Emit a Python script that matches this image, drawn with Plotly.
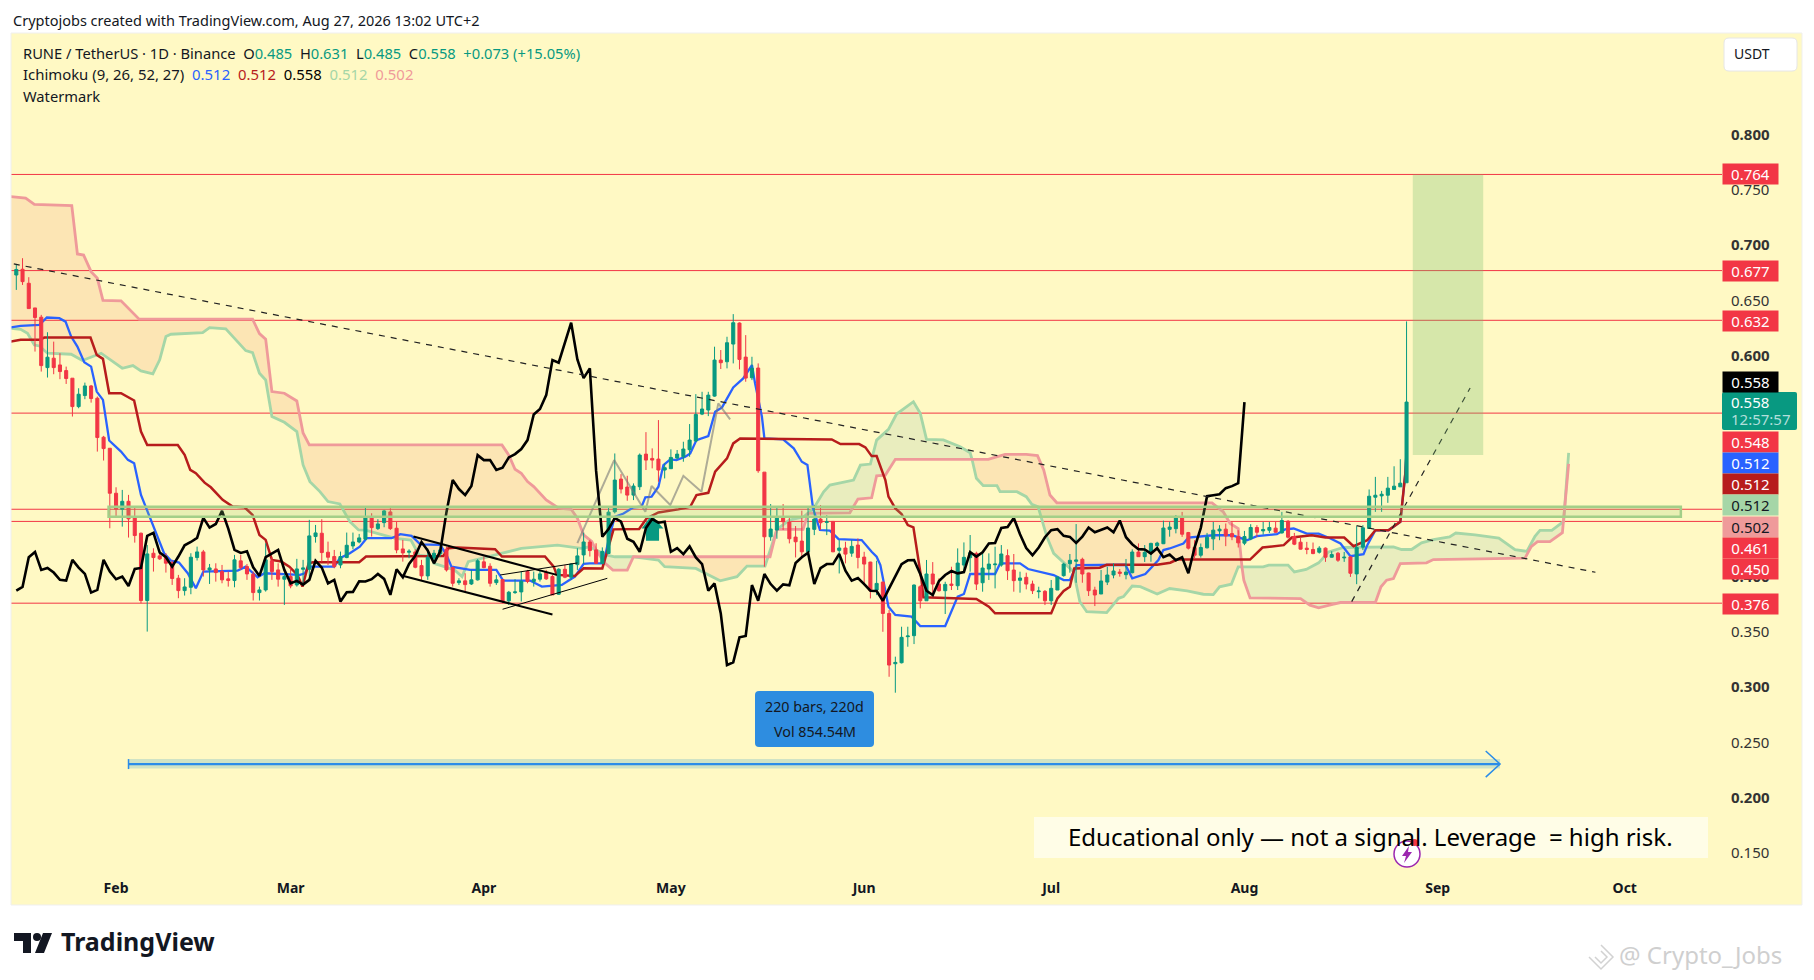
import pandas as pd
import plotly.graph_objects as go

first_bar = "2026-01-16"

opens = [.6730, .6782, .6655, .6432, .6348, .5892, .5977, .5916, .5865, .5796,
  .5539, .5639, .5726, .5615, .5262, .5162, .4755, .4610, .4682, .4538,
  .4393, .3784, .4212, .4188, .4176, .4127, .3986, .3874, .3904, .4173,
  .4224, .4061, .4070, .4046, .3980, .3965, .4143, .4091, .4022, .3856,
  .3880, .4143, .4061, .3977, .4001, .3925, .4067, .4067, .4363, .4393,
  .4221, .4182, .4106, .4173, .4278, .4314, .4339, .4535, .4435, .4489,
  .4586, .4438, .4251, .4221, .4224, .4100, .4007, .4167, .4206, .4248,
  .4082, .3946, .3962, .3934, .3971, .4134, .4094, .3946, .3974, .3781,
  .3856, .3862, .4046, .3956, .3977, .4040, .4001, .3841, .4067, .3995,
  .4109, .4197, .4314, .4242, .4120, .4210, .4587, .4883, .4811, .4738,
  .4814, .5109, .5070, .5064, .4965, .4977, .5073, .5085, .5149, .5227,
  .5471, .5508, .5634, .5960, .5945, .6105, .6295, .5987, .5800, .5888,
  .4946, .4361, .4422, .4530, .4494, .4358, .4322, .4225, .4428, .4521,
  .4491, .4500, .4238, .4259, .4213, .4286, .4177, .4132, .3879, .3951,
  .3667, .3212, .3221, .3457, .3466, .3909, .3782, .4024, .3933, .3873,
  .3933, .3918, .4105, .4172, .4211, .3945, .4069, .4108, .4105, .4190,
  .4060, .3967, .3994, .3933, .3864, .3867, .3782, .3879, .4009, .4117,
  .4139, .4157, .4033, .3879, .3843, .3951, .4015, .4042, .4018, .4036,
  .4223, .4181, .4217, .4280, .4298, .4428, .4434, .4535, .4399, .4264,
  .4194, .4261, .4342, .4414, .4430, .4390, .4363, .4303, .4342, .4445,
  .4414, .4420, .4439, .4396, .4502, .4363, .4312, .4258, .4246, .4221,
  .4258, .4176, .4212, .4170, .4179, .4025, .4267, .4436, .4719, .4731,
  .4737, .4789, .4813, .485]

closes = [.6780, .6670, .6426, .6345, .5910, .5986, .5892, .5856, .5793, .5539,
  .5651, .5726, .5612, .5259, .5159, .4755, .4610, .4682, .4523, .4372,
  .3784, .4206, .4173, .4161, .4122, .3983, .3874, .3907, .4176, .4224,
  .4061, .4079, .4037, .3971, .3965, .4152, .4082, .4025, .3856, .3880,
  .4152, .4046, .3977, .4001, .3916, .4070, .4079, .4369, .4396, .4218,
  .4176, .4091, .4182, .4284, .4314, .4351, .4532, .4444, .4477, .4595,
  .4435, .4242, .4215, .4230, .4085, .4007, .4176, .4212, .4242, .4061,
  .3940, .3962, .3928, .3971, .4143, .4082, .3940, .3971, .3775, .3859,
  .3862, .3958, .3956, .3977, .4025, .3980, .3835, .4067, .3995, .4115,
  .4188, .4314, .4236, .4121, .4229, .4584, .4874, .4793, .4738, .4820,
  .5100, .5055, .5055, .4965, .4986, .5079, .5109, .5155, .5236, .5468,
  .5517, .5643, .5960, .5936, .6117, .6298, .5966, .5797, .5885, .4959,
  .4361, .4431, .4530, .4497, .4343, .4316, .4225, .4440, .4521, .4488,
  .4497, .4225, .4259, .4204, .4274, .4174, .4114, .3873, .3939, .3667,
  .3200, .3224, .3451, .3463, .3924, .3782, .4024, .3933, .3873, .3930,
  .3921, .4123, .4175, .4217, .3933, .4078, .4114, .4114, .4205, .4054,
  .3964, .3988, .3933, .3873, .3870, .3782, .3894, .3997, .4114, .4148,
  .4151, .4024, .3873, .3834, .3961, .4015, .4051, .4030, .4042, .4223,
  .4181, .4220, .4301, .4304, .4440, .4449, .4531, .4384, .4258, .4194,
  .4264, .4357, .4421, .4430, .4369, .4360, .4306, .4363, .4445, .4402,
  .4427, .4445, .4402, .4508, .4357, .4294, .4249, .4246, .4209, .4258,
  .4176, .4200, .4149, .4176, .4031, .4264, .4442, .4728, .4737, .4746,
  .4801, .4819, .4846, .558]

highs = [.6830, .6882, .6710, .6432, .6369, .6212, .6127, .6022, .5901, .5796,
  .5705, .5756, .5735, .5630, .5274, .5162, .4809, .4785, .4740, .4634,
  .4399, .4287, .4257, .4227, .4212, .4146, .4016, .3986, .4212, .4272,
  .4242, .4115, .4121, .4106, .4046, .4197, .4197, .4115, .4046, .3910,
  .4302, .4176, .4121, .4031, .4076, .4161, .4152, .4514, .4468, .4520,
  .4317, .4242, .4227, .4399, .4399, .4387, .4622, .4574, .4520, .4604,
  .4619, .4496, .4333, .4248, .4248, .4152, .4257, .4242, .4272, .4272,
  .4091, .3986, .4031, .4061, .4158, .4182, .4121, .4016, .3977, .3871,
  .3977, .4046, .4061, .4046, .4052, .4061, .4016, .4076, .4106, .4121,
  .4257, .4399, .4333, .4302, .4265, .4627, .5115, .4928, .4913, .4844,
  .5115, .5308, .5161, .5417, .5025, .5152, .5146, .5221, .5381, .5652,
  .5673, .5673, .6081, .6051, .6171, .6376, .6301, .6186, .5990, .5930,
  .4946, .4657, .4639, .4657, .4548, .4458, .4597, .4633, .4648, .4648,
  .4557, .4500, .4331, .4316, .4331, .4346, .4225, .4135, .4144, .3954,
  .3698, .3276, .3547, .3547, .3930, .3924, .4151, .4132, .3985, .3954,
  .4090, .4256, .4310, .4377, .4226, .4211, .4211, .4271, .4286, .4247,
  .4205, .4045, .4036, .3964, .3909, .3879, .3970, .4000, .4126, .4205,
  .4476, .4172, .4036, .3909, .4060, .4090, .4120, .4069, .4160, .4247,
  .4301, .4286, .4307, .4316, .4507, .4497, .4558, .4586, .4405, .4330,
  .4300, .4396, .4496, .4466, .4481, .4496, .4420, .4414, .4475, .4466,
  .4496, .4496, .4496, .4586, .4511, .4396, .4354, .4315, .4309, .4276,
  .4264, .4230, .4224, .4224, .4185, .4457, .4466, .4789, .4903, .4776,
  .4903, .4999, .5063, .631]

lows = [.6595, .6640, .6426, .6037, .5856, .5802, .5832, .5787, .5744, .5449,
  .5524, .5606, .5575, .5132, .5051, .4438, .4535, .4453, .4354, .4308,
  .3760, .3503, .4046, .4152, .4037, .3925, .3805, .3829, .3841, .4146,
  .4001, .3934, .3955, .3940, .3910, .3904, .4061, .3971, .3784, .3784,
  .3865, .3971, .3910, .3744, .3895, .3910, .3925, .4001, .4308, .4136,
  .4106, .4076, .4076, .4167, .4248, .4302, .4333, .4363, .4423, .4447,
  .4423, .4212, .4136, .4167, .4076, .3971, .3971, .4121, .4182, .4046,
  .3910, .3925, .3865, .3925, .3965, .4076, .3910, .3925, .3759, .3744,
  .3844, .3775, .3940, .3910, .3956, .3971, .3835, .3835, .3986, .3971,
  .4061, .4115, .4182, .4115, .4120, .4204, .4572, .4753, .4687, .4693,
  .4784, .4965, .4980, .4859, .4889, .4974, .5061, .5040, .5085, .5221,
  .5462, .5453, .5628, .5879, .5885, .5930, .5876, .5764, .5779, .4940,
  .4090, .4325, .4343, .4422, .4301, .4174, .4180, .4210, .4376, .4422,
  .4376, .4222, .4029, .4120, .4180, .4075, .3924, .3803, .3833, .3501,
  .3094, .295, .3215, .3366, .3390, .3713, .3782, .3843, .3864, .3662,
  .3879, .3879, .4045, .4045, .3879, .3864, .3970, .3894, .4090, .3970,
  .3864, .3855, .3885, .3843, .3804, .3743, .3743, .3879, .4000, .4036,
  .3945, .3945, .3825, .3734, .3843, .3924, .3985, .4000, .3976, .4030,
  .4181, .4133, .4135, .4241, .4295, .4362, .4392, .4360, .4246, .4164,
  .4173, .4255, .4240, .4330, .4276, .4330, .4264, .4285, .4330, .4360,
  .4381, .4396, .4396, .4390, .4345, .4285, .4246, .4203, .4203, .4209,
  .4134, .4173, .4134, .4134, .3998, .3932, .4240, .4436, .4586, .4586,
  .4668, .4789, .4813, .485]

# lines, read as (bar number since first_bar, price)
tenkan_bar = [-1, .7, 3.7, 4.9, 6.9, 7.9, 8.8, 9.8, 10.9, 12, 12.9, 13.9, 14.9, 16.8, 17.9, 18.9, 20, 22.7, 23.7, 24.8,
  26.1, 27.5, 28.8, 30, 35.5, 36.8, 38.7, 39.8, 45.5, 46.3, 46.8, 51, 51.9, 53.5, 55.1, 56.2, 60.2, 61.6, 63.4, 64.8,
  68, 69, 69.8, 72.8, 77, 78.1, 82.4, 84.3, 87.5, 89.6, 91, 92, 94.2, 95, 96, 97.4, 99, 100.3, 100.9, 101.9,
  103, 103.8, 104.9, 105.9, 107.3, 108.1, 109.1, 111, 112.1, 113.2, 115, 116.6, 118, 118.5, 119.6, 120, 123, 124.7, 126, 126.9,
  127.8, 128.9, 130.5, 131.9, 135.6, 137.2, 138, 138.6, 139.1, 139.9, 141, 143.6, 145, 149, 151, 152, 153, 157, 157.8, 161,
  162.3, 164.8, 166.4, 168, 169, 170.1, 173.8, 177.9, 179, 181.1, 183.2, 184, 185, 187.2, 188, 190.7, 192, 195, 197.4, 199,
  202.2, 203.5, 204.9, 207, 208.9, 210.8, 212.4, 214, 216.1, 216.7, 218, 220.1, 222, 222.8, 223]
tenkan = [.6254, .6269, .6278, .6345, .6339, .6308, .6173, .6082, .594, .5901, .5675, .56, .5232, .5132, .5057, .5026, .474, .4348, .4212, .4146,
  .4127, .4031, .3895, .4046, .4055, .4091, .3995, .4031, .4016, .4031, .4091, .4091, .4167, .4212, .4272, .4348, .4348, .4384, .4369, .4293,
  .4287, .4197, .4091, .4061, .4061, .3965, .3965, .391, .3925, .4001, .4115, .412, .412, .4331, .4542, .4572, .4627, .4633, .4717, .4723,
  .4814, .501, .5061, .5055, .5085, .5115, .5236, .5272, .5492, .5532, .5713, .5794, .5915, .5749, .5447, .5251, .5242, .5161, .504, .501,
  .4618, .4422, .4416, .434, .4331, .4225, .418, .4105, .3969, .3728, .3653, .3638, .3553, .3553, .3819, .3843, .4024, .4024, .412, .412,
  .4069, .4036, .4015, .3969, .3969, .4105, .4105, .4108, .3985, .4024, .4151, .4241, .4255, .43, .4354, .4366, .4375, .4375, .433, .4366,
  .4384, .4427, .4436, .439, .439, .4345, .43, .4185, .4203, .4285, .442, .442, .4496, .4933, .512]

kijun_bar = [-1, .7, 3.7, 4.5, 11.9, 12.9, 13.9, 14.9, 16.8, 17.9, 18.9, 20, 21, 25.9, 27, 27.9, 28.8, 30.2, 31.2, 33.1,
  34.7, 36.6, 37.9, 39, 40, 41, 42.5, 43.8, 45.1, 45.9, 46.3, 46.9, 47.6, 55, 56.1, 68.5, 69.3, 70.7, 76.8, 77.9,
  84.8, 86.2, 86.7, 89.6, 91, 94, 95.8, 99.9, 101.1, 103, 106.2, 108.1, 109.1, 111, 112.1, 114, 115, 116.1, 130.8, 132.2,
  135.2, 136.2, 137.2, 138, 139.4, 139.9, 141, 142, 143, 143.9, 145.2, 145.5, 154, 156, 157, 166, 167, 168, 169, 169.7,
  173.8, 174.9, 183, 185.1, 186.2, 197.9, 199.9, 203.3, 204.6, 207.8, 210, 213, 214.5, 216.7, 218, 220.1, 222, 222.8, 223]
kijun = [.6127, .6143, .6143, .6164, .6164, .6007, .5971, .566, .566, .5624, .5594, .5313, .5192, .5192, .5102, .4966, .4936, .4851, .4809, .4695,
  .4634, .4628, .4559, .4378, .4333, .4152, .4137, .4091, .4016, .391, .4001, .4121, .413, .413, .4182, .4188, .4257, .4263, .4248, .4182,
  .4182, .4091, .4016, .4007, .4076, .4075, .4428, .4431, .4527, .4581, .4609, .4633, .4738, .4759, .495, .507, .5206, .5251, .5242, .52,
  .52, .517, .5091, .5091, .4874, .4724, .4618, .4567, .4467, .4446, .3969, .3813, .3798, .3728, .3668, .3668, .3804, .387, .3909, .4075,
  .4081, .4108, .4108, .4126, .4155, .4155, .4264, .4285, .4354, .4375, .4354, .4354, .4276, .433, .442, .442, .4496, .4933, .512]

senkou_a_bar = [-1, .7, 1.8, 2.9, 3.7, 5, 8.8, 10.6, 13.6, 17, 18.7, 20, 21.9, 23, 24, 24.8, 29.9, 31, 33.6, 35,
  36.8, 37.9, 39, 40, 41, 43, 45, 46, 47.1, 48.7, 50, 51.9, 53.5, 54.9, 56, 60.8, 63.3, 64.6, 66.8, 67,
  70.3, 71.5, 72.5, 81, 86.8, 90.6, 92, 93, 94.7, 96, 99, 103, 104, 109, 112.9, 115.6, 117.2, 120.1, 121.5, 122,
  124, 126.3, 127.9, 129.5, 130.5, 133, 134.3, 135.4, 137, 138, 139.9, 141.2, 143.9, 145, 146, 148.7, 151.4, 153, 153.3, 154,
  155.1, 157.3, 157.8, 160.5, 162, 162.9, 163.9, 165.3, 166.4, 169.6, 170.6, 171.7, 174.9, 176.8, 177.6, 179, 180.3, 183, 185, 187.8,
  190.4, 192, 193, 194.9, 196, 196.6, 200, 200.9, 204, 205, 206.9, 208.9, 210.5, 212.9, 220.9, 222.2, 223.8, 225.4, 227.3, 229.9,
  230.9, 234, 237.8, 240.4, 242.3, 243.6, 244.4, 246.3, 248.2, 249]
senkou_a = [.6248, .6239, .6203, .6097, .6088, .6022, .6013, .5956, .6022, .5886, .5910, .5862, .5835, .5962, .6173, .6194, .6209, .6254, .6242, .6152,
  .6046, .6028, .5841, .5780, .5449, .5397, .5313, .5011, .486, .477, .468, .4658, .4498, .4423, .4422, .4346, .4331, .4195, .418, .412,
  .406, .4, .4135, .4256, .4286, .4256, .427, .424, .4195, .418, .418, .415, .409, .4075, .3963, .4, .4096, .4096, .4331, .4428,
  .4512, .4542, .4618, .4768, .4829, .4859, .4874, .501, .5019, .5236, .5333, .5472, .5583, .5478, .5243, .5237, .5176, .5122, .5062, .489,
  .4823, .4823, .4769, .4769, .4724, .4654, .4633, .4362, .4211, .4045, .3773, .3683, .3674, .3804, .3819, .3915, .3909, .3843, .3893, .3871,
  .3841, .3838, .3908, .3932, .4089, .4089, .4089, .4104, .4104, .4043, .4065, .4125, .4224, .4264, .427, .4246, .4246, .4306, .4336, .436,
  .4395, .4379, .4349, .4244, .4229, .4365, .4419, .4419, .45, .512]

senkou_b_bar = [-1, 1.5, 2.9, 8.9, 9.8, 10.8, 12, 13, 13.9, 16.8, 19.7, 37.9, 39, 40, 41, 43, 45, 46, 47, 77.9,
  79, 80, 81, 82, 83, 85, 87, 89, 90, 91, 92.3, 93, 94.4, 95.7, 98, 99, 120.9, 122, 126.2, 127,
  133.7, 135, 137.2, 138, 139.4, 140.2, 141, 153.3, 155.9, 158.6, 162, 163.8, 164.8, 165.8, 166.9, 191.8, 193.6, 194.7, 196, 196.6,
  196.9, 197.9, 206, 207.5, 208.9, 211.3, 212.4, 218, 218.9, 219.8, 220.9, 222, 226.2, 227.3, 242, 243, 244, 246, 248, 249]
senkou_b = [.744, .7425, .737, .7358, .692, .691, .676, .670, .650, .6496, .633, .633, .620, .615, .5675, .566, .559, .530, .5192, .5192,
  .510, .4972, .4936, .486, .4815, .4695, .462, .461, .4529, .4378, .4318, .424, .4123, .406, .406, .418, .418, .4428, .4428, .4572,
  .4578, .4702, .4714, .4913, .4919, .4995, .5062, .5062, .5062, .5107, .5107, .5095, .4965, .4739, .4669, .4668, .4587, .4481, .4436, .4089,
  .3968, .3808, .3802, .3742, .3718, .3751, .3766, .3766, .3908, .3968, .3983, .4119, .4125, .4155, .4167, .4272, .4317, .4317, .4398, .502]

# bars where the two cloud lines cross, first span has senkou B on top
cloud_crossings = [-1, 93, 99, 122, 153.3, 196.6, 249]

chikou_shift = 26

hlines = [.764, .677, .632, .548, .461, .450, .376]

trend_down_bar = [-.4, 253.3]
trend_down = [.683, .404]
trend_up_bar = [214.2, 233.2]
trend_up = [.3774, .5708]
channel_top_bar = [63.7, 86.7]
channel_top = [.4363, .4016]
channel_low_bar = [61.8, 86]
channel_low = [.4010, .3657]
wedge_top_bar = [77.6, 90]
wedge_top = [.4015, .4124]
wedge_low_bar = [78, 94.8]
wedge_low = [.3705, .3985]
ghost_bar = [90, 95.9, 100.9, 101.9, 104.9, 107, 109.9, 112.6, 114.5]
ghost = [.4304, .5055, .4587, .4820, .4648, .4913, .4768, .5568, .5423]
mark_bar = [100.3, 101.9, 103.8, 103.1, 103.1, 101, 101, 100.3]
mark = [.4437, .4557, .4437, .4437, .4325, .4325, .4437, .4437]

target_bar = [224, 235.3]
target = [.5101, .764]
zone_bar = [14.8, 267]
zone = [.4543, .4633]
range_bar = [18, 238]
range_price = .2304

y_ticks = [.15, .2, .25, .3, .35, .4, .6, .65, .7, .75, .8]
y_tick_text = ["0.150", "<b>0.200</b>", "0.250", "<b>0.300</b>", "0.350", "<b>0.400</b>",
  "<b>0.600</b>", "0.650", "<b>0.700</b>", "0.750", "<b>0.800</b>"]
month_ticks = ["2026-02-01", "2026-03-01", "2026-04-01", "2026-05-01", "2026-06-01", "2026-07-01", "2026-08-01", "2026-09-01", "2026-10-01"]
month_names = ["Feb", "Mar", "Apr", "May", "Jun", "Jul", "Aug", "Sep", "Oct"]

price_labels = ["0.764", "0.677", "0.632", "0.558", "0.548", "0.512", "0.512", "0.512", "0.502", "0.461", "0.450", "0.376"]
label_y = [174, 271, 321, 382, 441.5, 463, 484, 505, 527, 548, 569, 604]
label_bg = ["#F23645", "#F23645", "#F23645", "#000000", "#F23645", "#2962FF", "#B71C1C", "#A5D6A7", "#EF9A9A", "#F23645", "#F23645", "#F23645"]
label_fg = ["#FFFFFF", "#FFFFFF", "#FFFFFF", "#FFFFFF", "#FFFFFF", "#FFFFFF", "#FFFFFF", "#131722", "#131722", "#FFFFFF", "#FFFFFF", "#FFFFFF"]

assert len(opens) == len(closes) == len(highs) == len(lows)
assert len(tenkan) == len(tenkan_bar) and len(kijun) == len(kijun_bar)
assert len(senkou_a) == len(senkou_a_bar) and len(senkou_b) == len(senkou_b_bar)

FONT = "Noto Sans"
BG = "#FFF9C4"
UP = "#089981"
DOWN = "#F23645"
PLOT_L, PLOT_R, PLOT_T, PLOT_B = 11, 1722, 33, 878


def day(bar):
  return pd.Timestamp(first_bar) + pd.Timedelta(days=bar)

def days(bars):
  return [day(b) for b in bars]

def px(x):
  return (x - PLOT_L) / (PLOT_R - PLOT_L)

def py(y):
  return (PLOT_B - y) / (PLOT_B - PLOT_T)

# top=True puts the line on the overlay axes, above the candles
def line(fig, bars, values, color, width=2, dash=None, top=True):
  fig.add_trace(go.Scatter(x=days(bars), y=values, mode="lines", hoverinfo="skip",
                           xaxis="x2" if top else "x", yaxis="y2" if top else "y",
                           line=dict(color=color, width=width, dash=dash)))

def cloud(fig, start, end, color):
  a = [(b, v) for b, v in zip(senkou_a_bar, senkou_a) if start <= b <= end]
  b = [(b, v) for b, v in zip(senkou_b_bar, senkou_b) if start <= b <= end]
  points = a + b[::-1]
  fig.add_trace(go.Scatter(x=days([p[0] for p in points]), y=[p[1] for p in points], mode="none",
                           fill="toself", fillcolor=color, hoverinfo="skip"))

def round_box(x0, y0, x1, y1, r, fill, border=None, width=0):
  path = (f"M{px(x0 + r)},{py(y0)} L{px(x1 - r)},{py(y0)} Q{px(x1)},{py(y0)} {px(x1)},{py(y0 + r)} "
          f"L{px(x1)},{py(y1 - r)} Q{px(x1)},{py(y1)} {px(x1 - r)},{py(y1)} L{px(x0 + r)},{py(y1)} "
          f"Q{px(x0)},{py(y1)} {px(x0)},{py(y1 - r)} L{px(x0)},{py(y0 + r)} Q{px(x0)},{py(y0)} {px(x0 + r)},{py(y0)} Z")
  return dict(type="path", path=path, xref="paper", yref="paper", fillcolor=fill, layer="above",
              line=dict(color=border or fill, width=width))

def poly(points, fill=None, color=None, width=1):
  path = "M" + " L".join(f"{px(x)},{py(y)}" for x, y in points) + (" Z" if fill else "")
  return dict(type="path", path=path, xref="paper", yref="paper", fillcolor=fill or "rgba(0,0,0,0)", layer="above",
              line=dict(color=color or "rgba(0,0,0,0)", width=width))

def strip(x0, y0, x1, y1):
  return dict(type="rect", xref="paper", yref="paper", x0=px(x0), x1=px(x1), y0=py(y1), y1=py(y0),
              fillcolor="#FFFFFF", line_width=0, layer="above")

def note(x, y, text, size=14, color="#131722", xanchor="left", **kw):
  return dict(x=px(x), y=py(y), xref="paper", yref="paper", text=text, showarrow=False, xanchor=xanchor,
              yanchor="middle", align=kw.pop("align", "left"), font=dict(family=FONT, size=size, color=color), **kw)


fig = go.Figure()

sign = 0
colors = ["#FCE5B4", "#E9EDBE"]
for start, end in zip(cloud_crossings, cloud_crossings[1:]):
  cloud(fig, start, end, colors[sign])
  sign = 1 - sign

for price in hlines:
  fig.add_trace(go.Scatter(x=[day(-30), day(300)], y=[price, price], mode="lines", hoverinfo="skip",
                           line=dict(color=DOWN, width=1)))

line(fig, senkou_a_bar, senkou_a, "#A5D6A7", 2.8, top=False)
line(fig, senkou_b_bar, senkou_b, "#EF9A9A", 2.8, top=False)
line(fig, tenkan_bar, tenkan, "#2962FF", 2.3, top=False)
line(fig, kijun_bar, kijun, "#B71C1C", 2.5, top=False)

fig.add_trace(go.Candlestick(x=days(range(len(opens))), open=opens, high=highs, low=lows, close=closes,
                             xaxis="x2", yaxis="y2",
                             increasing=dict(line=dict(color=UP, width=1), fillcolor=UP),
                             decreasing=dict(line=dict(color=DOWN, width=1), fillcolor=DOWN),
                             whiskerwidth=0, hoverinfo="skip"))

line(fig, ghost_bar, ghost, "rgba(120,120,120,0.6)", 2)
fig.add_trace(go.Scatter(x=days(mark_bar), y=mark, mode="none", fill="toself", fillcolor=UP, hoverinfo="skip",
                         xaxis="x2", yaxis="y2"))
line(fig, range(len(closes) - chikou_shift), closes[chikou_shift:], "#000000", 2.6)
line(fig, trend_down_bar, trend_down, "#222222", 1.2, "6px,6px")
line(fig, trend_up_bar, trend_up, "#222222", 1.2, "6px,6px")
line(fig, channel_top_bar, channel_top, "#000000", 2)
line(fig, channel_low_bar, channel_low, "#000000", 2)
line(fig, wedge_top_bar, wedge_top, "#000000", 1)
line(fig, wedge_low_bar, wedge_low, "#000000", 1)

# measure arrow
line(fig, range_bar, [range_price, range_price], "#2A8CE8", 2.2)
line(fig, [range_bar[0], range_bar[0]], [range_price - .0045, range_price + .0045], "#2A8CE8", 1.5)
line(fig, [range_bar[1] - 2.3, range_bar[1], range_bar[1] - 2.3], [range_price + .0118, range_price, range_price - .0118], "#2A8CE8", 1.5)

shapes = [
  # white page round the chart, the paper itself is the chart colour
  strip(-30, -30, 1844, 33),
  strip(-30, 905, 1844, 1010),
  strip(-30, -30, 11, 1010),
  strip(1802, -30, 1844, 1010),
  dict(type="rect", xref="paper", yref="paper", x0=px(11), x1=px(1802), y0=py(905), y1=py(33), layer="above",
       line=dict(color="#EFEFEF", width=1)),
  dict(type="rect", x0=day(range_bar[0]), x1=day(range_bar[1]), y0=range_price - .0039, y1=range_price + .0045,
       fillcolor="#CFE3C5", line_width=0, layer="below"),
  dict(type="rect", x0=day(target_bar[0]), x1=day(target_bar[1]), y0=target[0], y1=target[1],
       fillcolor="rgba(120,190,110,0.3)", line_width=0, layer="above"),
  dict(type="rect", x0=day(zone_bar[0]), x1=day(zone_bar[1]), y0=zone[0], y1=zone[1],
       fillcolor="rgba(150,205,120,0.22)", line=dict(color="#A3CF88", width=2.5), layer="above"),
  round_box(755, 691, 874, 747, 4, "#2E8DE0"),
  dict(type="rect", xref="paper", yref="paper", x0=px(1034), x1=px(1708), y0=py(858), y1=py(817),
       fillcolor="rgba(255,255,255,0.6)", line_width=0, layer="above"),
  round_box(1724, 38, 1797, 71, 5, "#FFFFFF", "#E6E6E6", 1),
  round_box(1722, 392, 1797, 430, 2, UP),
  # trigger icon
  dict(type="circle", xref="paper", yref="paper", x0=px(1394), x1=px(1420), y0=py(867), y1=py(841),
       fillcolor="#FFFFFF", line=dict(color="#9C27B0", width=1.5), layer="above"),
  poly([(1409, 846), (1402, 856), (1406, 856), (1404, 863), (1412, 852), (1408, 852)], fill="#9C27B0"),
  dict(type="circle", xref="paper", yref="paper", x0=px(1411), x1=px(1418), y0=py(846), y1=py(839),
       fillcolor="#F23645", line_width=0, layer="above"),
  # TradingView logo
  poly([(14, 933), (31, 933), (31, 953), (23, 953), (23, 941), (14, 941)], fill="#131722"),
  dict(type="circle", xref="paper", yref="paper", x0=px(33), x1=px(41), y0=py(941), y1=py(933),
       fillcolor="#131722", line_width=0, layer="above"),
  poly([(43, 933), (52, 933), (44, 953), (35, 953)], fill="#131722"),
  # watermark diamond
  poly([(1601, 945), (1613, 957), (1601, 969), (1589, 957)], color="#D2D2D2", width=1.5),
  poly([(1601, 951), (1607, 957), (1601, 963), (1595, 957)], color="#D2D2D2", width=1.5),
]

notes = [
  note(11, 20, "Cryptojobs created with TradingView.com, Aug 27, 2026 13:02 UTC+2", 14.5),
  note(21, 53.5, f"RUNE / TetherUS · 1D · Binance  O<span style='color:{UP}'>0.485</span>  H<span style='color:{UP}'>0.631</span>  "
       f"L<span style='color:{UP}'>0.485</span>  C<span style='color:{UP}'>0.558</span>  <span style='color:{UP}'>+0.073 (+15.05%)</span>", 14.7),
  note(21, 74.5, "Ichimoku (9, 26, 52, 27)  <span style='color:#2962FF'>0.512</span>  <span style='color:#B71C1C'>0.512</span>  "
       "<span style='color:#000000'>0.558</span>  <span style='color:#A5D6A7'>0.512</span>  <span style='color:#EF9A9A'>0.502</span>", 14.9),
  note(21, 95.5, "Watermark", 14.7),
  note(1752, 54, "USDT", 14, xanchor="center"),
  note(814.5, 706, "220 bars, 220d", 14.3, xanchor="center"),
  note(814.5, 731, "Vol 854.54M", 14.3, xanchor="center"),
  note(1370, 836, "Educational only — not a signal. Leverage\u00a0 = high risk.", 24, "#000000", xanchor="center"),
  note(59, 941, "<b>TradingView</b>", 25),
  note(1617, 955, "@ Crypto_Jobs", 24, "#CFCFCF"),
]
for text, y, bg, fg in zip(price_labels, label_y, label_bg, label_fg):
  notes.append(note(1722, y, text, 15, fg, bgcolor=bg, width=55, height=20, align="center", borderpad=0))
notes.append(note(1729, 402, "0.558", 15, "#FFFFFF"))
notes.append(note(1729, 419, "12:57:57", 15, "#B2DFDB"))

range_x = [day(-.85), day(273.6)]
range_y = [.1273, .8920]

fig.update_layout(
  width=1814, height=980, showlegend=False,
  paper_bgcolor=BG, plot_bgcolor="rgba(0,0,0,0)",
  margin=dict(l=PLOT_L, r=1814 - PLOT_R, t=PLOT_T, b=980 - PLOT_B),
  font=dict(family=FONT, size=14, color="#131722"),
  shapes=shapes, annotations=notes,
  xaxis=dict(range=range_x, rangeslider=dict(visible=False), showgrid=False, zeroline=False,
             tickmode="array", tickvals=month_ticks, ticktext=["<b>" + m + "</b>" for m in month_names],
             ticklen=0, showline=False, ticklabelstandoff=0),
  yaxis=dict(range=range_y, side="right", showgrid=False, zeroline=False, tickmode="array",
             tickvals=y_ticks, ticktext=y_tick_text, ticklen=0, ticklabelstandoff=8, showline=False,
             tickfont=dict(size=15, color="#333333")),
  xaxis2=dict(range=range_x, overlaying="x", visible=False, rangeslider=dict(visible=False)),
  yaxis2=dict(range=range_y, overlaying="y", visible=False),
)

fig.write_html("out.html", config={"displayModeBar": False}, post_script="document.body.style.margin='0';")
